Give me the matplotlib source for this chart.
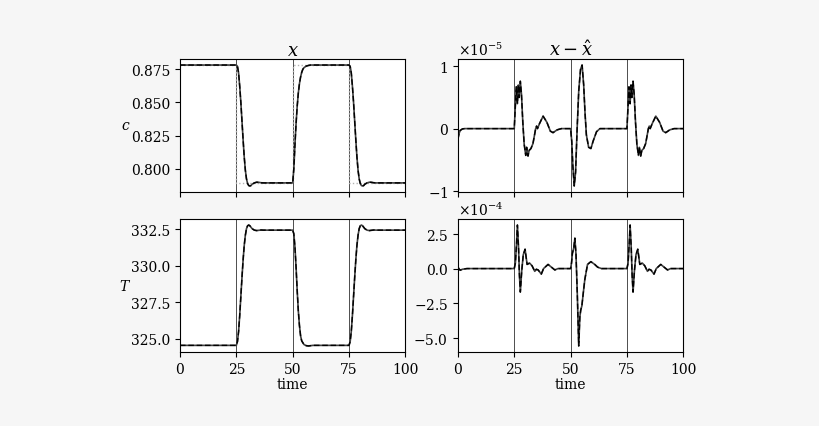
import matplotlib

matplotlib.use("Agg")
import matplotlib.pyplot as plt

plt.rcParams["font.family"] = "DejaVu Serif"
plt.rcParams["mathtext.fontset"] = "dejavuserif"
plt.rcParams["font.size"] = 10

# switching times of the setpoint
SWITCH_TIMES = [25, 50, 75]

# setpoint for c (dotted grey step)
t_sp = [0, 25, 25, 50, 50, 75, 75, 100]
c_sp = [0.878, 0.878, 0.7895, 0.7895, 0.878, 0.878, 0.7895, 0.7895]

# concentration c
t_c = [0, 25, 25.5, 26, 26.5, 27, 27.5, 28, 28.5, 29, 29.5, 30, 30.5, 31, 31.5, 32, 33, 34, 35, 36, 37,
       50, 50.5, 51, 51.5, 52, 52.5, 53, 53.5, 54, 54.5, 55, 56, 57, 58,
       75, 75.5, 76, 76.5, 77, 77.5, 78, 78.5, 79, 79.5, 80, 80.5, 81, 81.5, 82, 83, 84, 85, 86, 87, 100]
c_vals = [0.878, 0.878, 0.877, 0.872, 0.862, 0.850, 0.836, 0.822, 0.809, 0.799, 0.7925, 0.789, 0.7875, 0.7872,
          0.7875, 0.7885, 0.7895, 0.790, 0.7899, 0.7896, 0.7895,
          0.7895, 0.800, 0.818, 0.834, 0.847, 0.857, 0.864, 0.869, 0.8725, 0.8748, 0.876, 0.8772, 0.8777, 0.878,
          0.878, 0.877, 0.872, 0.862, 0.850, 0.836, 0.822, 0.809, 0.799, 0.7925, 0.789, 0.7875, 0.7872,
          0.7875, 0.7885, 0.7895, 0.790, 0.7899, 0.7896, 0.7895, 0.7895]

# temperature T
t_T = [0, 25, 25.5, 26, 26.5, 27, 27.5, 28, 28.5, 29, 29.5, 30, 30.5, 31, 31.5, 32, 33, 34, 35, 36, 37,
       50, 50.5, 51, 51.5, 52, 52.5, 53, 53.5, 54, 55, 56, 57, 58, 59,
       75, 75.5, 76, 76.5, 77, 77.5, 78, 78.5, 79, 79.5, 80, 80.5, 81, 81.5, 82, 83, 84, 85, 86, 87, 100]
T_vals = [324.54, 324.54, 324.8, 325.5, 326.6, 327.9, 329.2, 330.4, 331.4, 332.1, 332.55, 332.75, 332.8,
          332.75, 332.65, 332.55, 332.45, 332.42, 332.44, 332.46, 332.45,
          332.45, 332.2, 331.3, 329.9, 328.3, 326.9, 325.9, 325.2, 324.85, 324.6, 324.52, 324.5, 324.52, 324.54,
          324.54, 324.8, 325.5, 326.6, 327.9, 329.2, 330.4, 331.4, 332.1, 332.55, 332.75, 332.8,
          332.75, 332.65, 332.55, 332.45, 332.42, 332.44, 332.46, 332.45, 332.45]

# estimation error in c (x 1e-5)
t_ec = [0, 0.5, 1, 2, 3, 25, 25.4, 25.9, 26.4, 26.8, 27.2, 27.7, 28.2, 28.8, 29.4, 30.1, 30.5, 31.1, 31.6,
        32.4, 33.3, 34.5, 34.9, 35.3, 36.2, 37.8, 39.5, 41, 42.2, 44, 45.9,
        50, 50.5, 51, 51.6, 52.2, 52.9, 53.6, 54.4, 55.1, 55.8, 56.4, 57, 58, 59, 60, 61.5, 63,
        75, 75.4, 75.9, 76.4, 76.8, 77.2, 77.7, 78.2, 78.8, 79.4, 80.1, 80.5, 81.1, 81.6,
        82.4, 83.3, 84.5, 84.9, 85.3, 86.2, 87.8, 89.5, 91, 92.2, 94, 95.9, 100]
ec_vals = [-0.17, -0.08, -0.03, -0.005, 0.0, 0.0, 0.3, 0.67, 0.4, 0.7, 0.5, 0.76, 0.55, 0.1, -0.25, -0.43,
           -0.3, -0.44, -0.35, -0.32, -0.24, 0.0, 0.04, 0.0, 0.08, 0.2, 0.1, -0.04, -0.065, -0.02, 0.0,
           0.0, -0.2, -0.6, -0.92, -0.7, 0.0, 0.6, 0.95, 1.02, 0.7, 0.25, -0.1, -0.3, -0.32, -0.2, -0.05, 0.0,
           0.0, 0.3, 0.67, 0.4, 0.7, 0.5, 0.76, 0.55, 0.1, -0.25, -0.43,
           -0.3, -0.44, -0.35, -0.32, -0.24, 0.0, 0.04, 0.0, 0.08, 0.2, 0.1, -0.04, -0.065, -0.02, 0.0, 0.0]

# estimation error in T (x 1e-4)
t_eT = [0, 0.4, 1, 2, 4, 25, 25.5, 26, 26.4, 26.9, 27.3, 27.7, 28.3, 29, 29.8, 30.7, 31.8, 32.9, 34.1,
        34.8, 35.6, 37, 38, 40, 43, 44.4,
        50, 50.4, 50.8, 51.4, 51.9, 52.4, 53, 53.6, 54.1, 54.5, 55, 55.6, 56.3, 57.5, 59, 60.7, 62, 63.7,
        75, 75.5, 76, 76.4, 76.9, 77.3, 77.7, 78.3, 79, 79.8, 80.7, 81.8, 82.9, 84.1,
        84.8, 85.6, 87, 88, 90, 93, 94.4, 100]
eT_vals = [0.12, 0.0, -0.12, -0.05, 0.0, 0.0, 0.4, 1.8, 3.15, 1.5, -0.5, -1.7, -0.2, 1.0, 1.4, 0.3, 0.4, 0.2, -0.2,
           -0.05, -0.1, -0.4, 0.0, 0.3, -0.1, 0.0,
           0.0, 0.4, 1.1, 1.5, 2.2, 1.0, -2.0, -5.6, -3.5, -3.0, -2.7, -1.8, -0.8, 0.3, 0.5, 0.3, 0.1, 0.0,
           0.0, 0.4, 1.8, 3.15, 1.5, -0.5, -1.7, -0.2, 1.0, 1.4, 0.3, 0.4, 0.2, -0.2,
           -0.05, -0.1, -0.4, 0.0, 0.3, -0.1, 0.0, 0.0]

fig, axes = plt.subplots(2, 2, figsize=(8.2, 4.27), dpi=100, sharex=True)
fig.patch.set_facecolor("#f6f6f6")
fig.subplots_adjust(left=0.2195, right=0.8333, top=0.8595, bottom=0.1733, wspace=0.233, hspace=0.203)

ax_c, ax_ec = axes[0]
ax_T, ax_eT = axes[1]

ax_c.plot(t_sp, c_sp, color="0.7", lw=1.0, ls=":")
for ax, t, y in [(ax_c, t_c, c_vals), (ax_T, t_T, T_vals), (ax_ec, t_ec, ec_vals), (ax_eT, t_eT, eT_vals)]:
    ax.plot(t, y, color="0.25", lw=1.2)
    ax.plot(t, y, color="black", lw=1.0, ls="--", dashes=(4, 2))
    for ts in SWITCH_TIMES:
        ax.axvline(ts, color="0.3", lw=0.7, zorder=0)
    ax.set_xlim(0, 100)
    ax.set_facecolor("white")

ax_c.set_yticks([0.800, 0.825, 0.850, 0.875])
ax_T.set_yticks([325.0, 327.5, 330.0, 332.5])
ax_ec.set_yticks([-1, 0, 1])
ax_ec.set_yticklabels(["$-1$", "0", "1"])
ax_ec.text(0.0, 1.01, r"$\times10^{-5}$", transform=ax_ec.transAxes, ha="left", va="bottom")
ax_eT.set_yticks([-5.0, -2.5, 0.0, 2.5])
ax_eT.set_yticklabels(["$-5.0$", "$-2.5$", "0.0", "2.5"])
ax_eT.text(0.0, 1.01, r"$\times10^{-4}$", transform=ax_eT.transAxes, ha="left", va="bottom")

ax_T.set_xticks([0, 25, 50, 75, 100])
ax_T.set_xlabel("time", labelpad=1)
ax_eT.set_xlabel("time", labelpad=1)

ax_c.set_ylabel("$c$", rotation=0, labelpad=4, va="center")
ax_T.set_ylabel("$T$", rotation=0, labelpad=4, va="center")
ax_c.set_title("$x$", fontsize=13, pad=2)
ax_ec.set_title(r"$x - \hat{x}$", fontsize=13, pad=2)

fig.savefig("out.png", dpi=100, facecolor=fig.get_facecolor())
